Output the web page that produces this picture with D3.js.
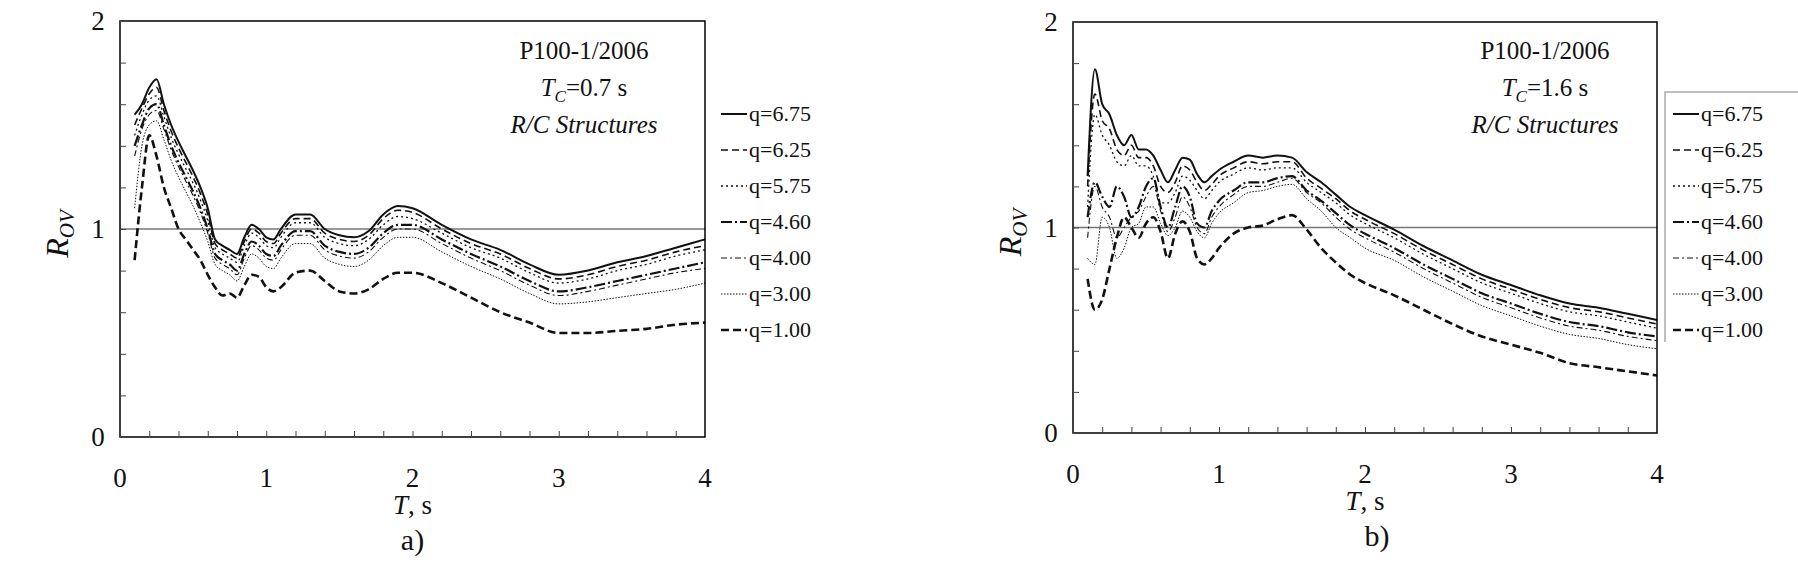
<!DOCTYPE html>
<html><head><meta charset="utf-8">
<script src="https://cdn.jsdelivr.net/npm/d3@7"></script>
<style>body{margin:0;background:#fff}svg, svg text{font-family:"Liberation Serif","DejaVu Serif",serif}</style>
</head><body><svg id="c" width="1798" height="562"></svg>
<script>
const qLabels=["q=6.75","q=6.25","q=5.75","q=4.60","q=4.00","q=3.00","q=1.00"];
const xTickLabels=[0,1,2,3,4];
const yTickLabels=[0,1,2];
const T_a=[0.1,0.15,0.2,0.25,0.3,0.35,0.4,0.45,0.5,0.55,0.6,0.65,0.7,0.75,0.8,0.85,0.9,0.95,1.0,1.05,1.1,1.2,1.3,1.4,1.5,1.6,1.7,1.8,1.9,2.0,2.2,2.4,2.6,2.8,3.0,3.2,3.4,3.6,3.8,4.0];
const a_675=[1.55,1.6,1.68,1.72,1.6,1.5,1.42,1.35,1.28,1.2,1.1,0.95,0.92,0.9,0.88,0.96,1.02,1.0,0.96,0.95,1.0,1.07,1.07,1.0,0.97,0.96,0.99,1.07,1.11,1.1,1.02,0.95,0.9,0.83,0.78,0.8,0.84,0.87,0.91,0.95];
const a_625=[1.5,1.58,1.65,1.68,1.57,1.47,1.39,1.32,1.25,1.17,1.07,0.93,0.9,0.88,0.86,0.94,1.0,0.98,0.94,0.93,0.98,1.05,1.05,0.98,0.95,0.94,0.97,1.05,1.09,1.08,1.0,0.93,0.88,0.81,0.76,0.78,0.82,0.85,0.89,0.92];
const a_575=[1.45,1.55,1.62,1.64,1.54,1.44,1.36,1.29,1.22,1.14,1.04,0.91,0.88,0.86,0.84,0.92,0.98,0.96,0.92,0.91,0.96,1.03,1.03,0.96,0.93,0.92,0.95,1.02,1.06,1.05,0.98,0.91,0.86,0.79,0.74,0.76,0.8,0.83,0.87,0.9];
const a_460=[1.4,1.5,1.58,1.6,1.5,1.4,1.32,1.25,1.18,1.1,1.0,0.88,0.85,0.83,0.8,0.88,0.94,0.92,0.88,0.87,0.92,0.99,0.99,0.92,0.89,0.88,0.91,0.98,1.02,1.02,0.95,0.88,0.82,0.75,0.7,0.72,0.75,0.78,0.81,0.84];
const a_400=[1.35,1.48,1.55,1.57,1.48,1.38,1.3,1.23,1.16,1.08,0.98,0.86,0.83,0.81,0.78,0.86,0.92,0.9,0.86,0.85,0.9,0.97,0.97,0.9,0.87,0.86,0.89,0.96,1.0,1.0,0.93,0.86,0.8,0.73,0.68,0.7,0.73,0.76,0.79,0.81];
const a_300=[1.1,1.4,1.5,1.52,1.43,1.33,1.25,1.18,1.11,1.03,0.94,0.83,0.8,0.78,0.75,0.82,0.88,0.86,0.82,0.81,0.86,0.93,0.93,0.86,0.83,0.82,0.85,0.92,0.96,0.96,0.89,0.82,0.76,0.69,0.64,0.65,0.67,0.69,0.71,0.74];
const a_100=[0.85,1.2,1.45,1.35,1.2,1.1,1.0,0.95,0.9,0.85,0.78,0.72,0.68,0.69,0.67,0.73,0.78,0.77,0.72,0.7,0.72,0.79,0.8,0.75,0.7,0.69,0.71,0.76,0.79,0.79,0.74,0.67,0.6,0.55,0.5,0.5,0.51,0.52,0.54,0.55];
const T_b=[0.1,0.15,0.2,0.25,0.3,0.35,0.4,0.45,0.5,0.55,0.6,0.65,0.7,0.75,0.8,0.85,0.9,0.95,1.0,1.1,1.2,1.3,1.4,1.5,1.6,1.7,1.8,1.9,2.0,2.2,2.4,2.6,2.8,3.0,3.2,3.4,3.6,3.8,4.0];
const b_675=[1.25,1.77,1.6,1.55,1.45,1.4,1.45,1.38,1.38,1.35,1.28,1.22,1.28,1.34,1.33,1.26,1.22,1.25,1.28,1.32,1.35,1.34,1.35,1.34,1.27,1.22,1.16,1.1,1.06,0.99,0.91,0.84,0.77,0.72,0.67,0.63,0.61,0.58,0.55];
const b_625=[1.2,1.65,1.52,1.48,1.38,1.35,1.4,1.34,1.34,1.3,1.2,1.17,1.22,1.3,1.28,1.22,1.18,1.21,1.25,1.29,1.32,1.31,1.32,1.32,1.24,1.19,1.14,1.08,1.04,0.97,0.89,0.82,0.75,0.7,0.65,0.61,0.59,0.56,0.53];
const b_575=[1.1,1.55,1.45,1.4,1.32,1.3,1.35,1.3,1.3,1.25,1.12,1.12,1.17,1.25,1.23,1.18,1.14,1.18,1.22,1.26,1.29,1.28,1.29,1.29,1.22,1.17,1.12,1.06,1.02,0.95,0.87,0.8,0.73,0.68,0.63,0.59,0.57,0.54,0.51];
const b_460=[1.05,1.22,1.15,1.1,1.2,1.15,1.05,1.1,1.2,1.24,1.1,1.0,1.1,1.2,1.15,1.02,1.0,1.08,1.13,1.18,1.22,1.22,1.24,1.25,1.18,1.13,1.07,1.01,0.97,0.9,0.82,0.75,0.68,0.63,0.58,0.54,0.52,0.49,0.47];
const b_400=[0.95,1.2,1.1,1.05,0.95,1.0,1.05,1.08,1.15,1.2,1.08,0.98,1.05,1.15,1.1,1.0,0.97,1.05,1.1,1.16,1.2,1.2,1.22,1.24,1.17,1.12,1.05,0.99,0.95,0.88,0.8,0.73,0.66,0.61,0.56,0.52,0.5,0.47,0.45];
const b_300=[0.85,0.82,1.05,1.0,0.85,0.9,1.0,1.02,1.1,1.1,1.02,0.96,1.0,1.08,1.05,0.98,0.95,1.02,1.07,1.12,1.17,1.18,1.2,1.21,1.14,1.08,1.0,0.95,0.9,0.84,0.76,0.69,0.62,0.57,0.52,0.48,0.46,0.43,0.41];
const b_100=[0.75,0.6,0.65,0.8,0.95,1.05,1.0,0.95,1.02,1.05,0.98,0.85,0.97,1.03,0.98,0.85,0.82,0.85,0.9,0.97,1.0,1.01,1.04,1.06,0.99,0.9,0.83,0.77,0.73,0.67,0.6,0.53,0.47,0.43,0.39,0.34,0.32,0.3,0.28];

const FONT='"Liberation Serif","DejaVu Serif",serif';
const styles=[{w:2,d:null},{w:1.6,d:"7,4"},{w:1.3,d:"2,3"},{w:2.2,d:"11,3,2,3"},{w:1.1,d:"6,3,2,3"},{w:1,d:"1.5,1.5"},{w:2.6,d:"8,4"}];
const svg=d3.select("#c");
function txt(g){return g.append("text").attr("font-family",FONT).attr("fill","#111");}
function panel(o){
  const x=d3.scaleLinear().domain([0,4]).range([o.x0,o.x1]);
  const y=d3.scaleLinear().domain([0,2]).range([o.y1,o.y0]);
  const g=svg.append("g");
  g.append("line").attr("x1",x(0)).attr("x2",x(4)).attr("y1",y(1)).attr("y2",y(1)).attr("stroke","#777").attr("stroke-width",1.5);
  const line=d3.line().x(d=>x(d[0])).y(d=>y(d[1])).curve(d3.curveMonotoneX);
  o.series.forEach((s,i)=>{
    const pts=o.T.map((t,j)=>[t,s[j]]).filter(p=>p[1]!=null);
    g.append("path").attr("d",line(pts)).attr("fill","none").attr("stroke","#111")
     .attr("stroke-width",styles[i].w).attr("stroke-dasharray",styles[i].d);
  });
  g.append("rect").attr("x",x(0)).attr("y",y(2)).attr("width",x(4)-x(0)).attr("height",y(0)-y(2)).attr("fill","none").attr("stroke","#000").attr("stroke-width",1.5);
  const xa=g.append("g").attr("transform",`translate(0,${y(0)})`).call(d3.axisTop(x).tickValues(d3.range(0,4.01,0.2)).tickSize(6).tickFormat(""));
  xa.select(".domain").remove();
  const ya=g.append("g").attr("transform",`translate(${x(0)},0)`).call(d3.axisRight(y).tickValues(d3.range(0,2.01,0.2)).tickSize(6).tickFormat(""));
  ya.select(".domain").remove();
  g.selectAll(".tick line").attr("stroke","#444");
  xTickLabels.forEach(v=>txt(g).attr("x",x(v)).attr("y",y(0)+50).attr("text-anchor","middle").attr("font-size",27).text(v));
  yTickLabels.forEach(v=>txt(g).attr("x",x(0)-22).attr("y",y(v)+9).attr("text-anchor","middle").attr("font-size",27).text(v));
  txt(g).attr("x",(x(0)+x(4))/2).attr("y",y(0)+77).attr("text-anchor","middle").attr("font-size",27)
   .html('<tspan font-style="italic">T</tspan>, s');
  txt(g).attr("x",(x(0)+x(4))/2+o.capDx).attr("y",y(0)+113).attr("text-anchor","middle").attr("font-size",30).text(o.cap);
  txt(g).attr("transform",`translate(${x(0)-52},${y(1)+5}) rotate(-90)`).attr("text-anchor","middle").attr("font-size",32).attr("font-style","italic")
   .html('R<tspan font-size="21" dy="6">OV</tspan>');
  const ax=o.annX;
  txt(g).attr("x",ax).attr("y",59).attr("text-anchor","middle").attr("font-size",25).text("P100-1/2006");
  txt(g).attr("x",ax).attr("y",96).attr("text-anchor","middle").attr("font-size",25)
   .html(`<tspan font-style="italic">T</tspan><tspan font-style="italic" font-size="17" dy="6">C</tspan><tspan dy="-6">=${o.tc} s</tspan>`);
  txt(g).attr("x",ax).attr("y",133).attr("text-anchor","middle").attr("font-size",25).attr("font-style","italic").text("R/C Structures");
  if(o.box){g.append("path").attr("d",`M${o.lx+155},92 H${o.lx-8} V342`).attr("fill","none").attr("stroke","#aaa").attr("stroke-width",1.5);}
  qLabels.forEach((q,i)=>{
    const yy=114+i*36;
    g.append("line").attr("x1",o.lx).attr("x2",o.lx+26).attr("y1",yy).attr("y2",yy).attr("stroke","#111")
     .attr("stroke-width",styles[i].w).attr("stroke-dasharray",styles[i].d);
    txt(g).attr("x",o.lx+28).attr("y",yy+7).attr("font-size",22).text(q);
  });
}
panel({x0:120,x1:705,y0:21,y1:437,T:T_a,series:[a_675,a_625,a_575,a_460,a_400,a_300,a_100],annX:584,tc:"0.7",lx:721,cap:"a)",capDx:0,box:false});
panel({x0:1073,x1:1657,y0:22,y1:433,T:T_b,series:[b_675,b_625,b_575,b_460,b_400,b_300,b_100],annX:1545,tc:"1.6",lx:1673,cap:"b)",capDx:12,box:true});
</script></body></html>
